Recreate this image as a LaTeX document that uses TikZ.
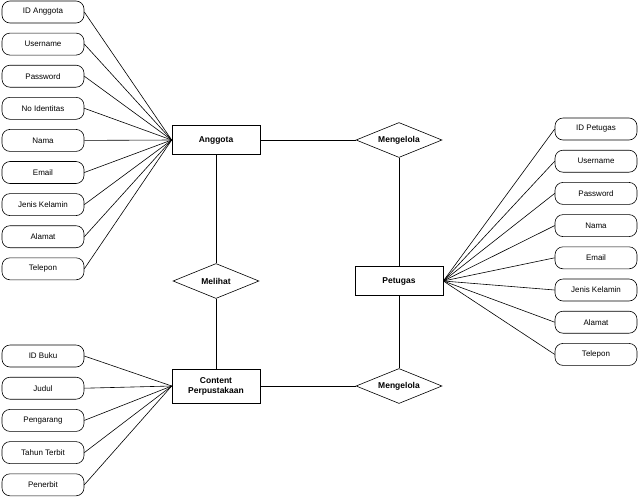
\documentclass[tikz,border=0pt]{standalone}
\usepackage{fontspec}
\setmainfont{Liberation Sans}
\usetikzlibrary{shapes.geometric}
\begin{document}
\begin{tikzpicture}[x=1pt,y=-1pt,
 attr/.style={draw,rounded corners=8pt,minimum width=82pt,minimum height=22pt,font=\fontsize{8}{9}\selectfont,inner sep=1pt},
 ent/.style={draw,minimum width=88pt,minimum height=29pt,font=\bfseries\fontsize{8.5}{10}\selectfont,align=center,inner sep=1pt},
 rel/.style={draw,diamond,aspect=2.5,minimum width=86pt,minimum height=35pt,inner sep=0pt,font=\bfseries\fontsize{8.5}{10}\selectfont},
 line width=0.6pt]
\useasboundingbox (0,0) rectangle (640,496);
\node[ent] (ang) at (216,140) {Anggota};
\node[ent] (pet) at (399,281) {Petugas};
\node[ent,minimum height=34pt] (con) at (216,386) {Content\\Perpustakaan};
\node[rel] (m1) at (399,140) {Mengelola};
\node[rel] (mel) at (216,281) {Melihat};
\node[rel] (m2) at (399,386) {Mengelola};
\draw (ang) -- (m1) -- (pet);
\draw (ang) -- (mel) -- (con);
\draw (con) -- (m2) -- (pet);
\foreach \t [count=\i] in {ID Anggota,Username,Password,No Identitas,Nama,Email,Jenis Kelamin,Alamat,Telepon}{
 \node[attr] (a\i) at (43,{12+(\i-1)*32.1}) {\t};
 \draw (a\i.east) -- (ang.west);}
\foreach \t [count=\i] in {ID Petugas,Username,Password,Nama,Email,Jenis Kelamin,Alamat,Telepon}{
 \node[attr] (p\i) at (596,{129+(\i-1)*32.2}) {\t};
 \draw (p\i.west) -- (pet.east);}
\foreach \t [count=\i] in {ID Buku,Judul,Pengarang,Tahun Terbit,Penerbit}{
 \node[attr] (c\i) at (43,{356+(\i-1)*32.2}) {\t};
 \draw (c\i.east) -- (con.west);}
\end{tikzpicture}
\end{document}
